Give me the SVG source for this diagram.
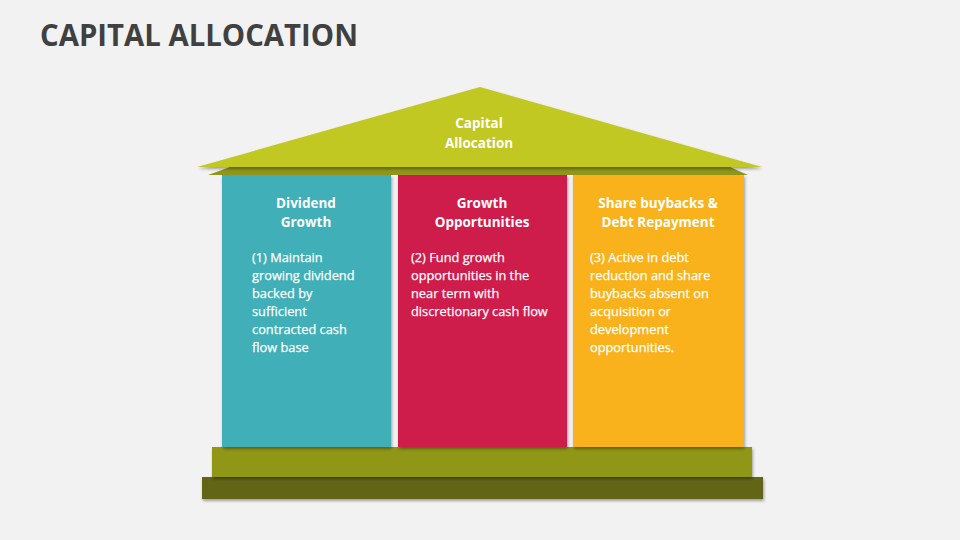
<svg xmlns="http://www.w3.org/2000/svg" width="960" height="540" viewBox="0 0 960 540">
<style>
.title{font-family:"Open Sans","Liberation Sans",sans-serif;font-weight:700;font-size:30px;fill:#404040}
.hd{font-family:"Open Sans","Liberation Sans",sans-serif;font-weight:700;font-size:13.5px;fill:#ffffff;text-anchor:middle}
.bd{font-family:"Open Sans","Liberation Sans",sans-serif;font-size:12.8px;fill:#ffffff;stroke:#ffffff;stroke-width:0.25}
</style>
<defs>
<filter id="sh" x="-10%" y="-10%" width="120%" height="130%">
<feDropShadow dx="1" dy="2" stdDeviation="1.5" flood-color="#000" flood-opacity="0.35"/>
</filter>
</defs>
<rect width="960" height="540" fill="#F2F2F2"/>
<text class="title" x="40" y="46" textLength="318" lengthAdjust="spacingAndGlyphs">CAPITAL ALLOCATION</text>

<g id="base">
<rect x="202" y="477" width="561" height="22" fill="#636515" filter="url(#sh)"/>
<rect x="212" y="447" width="540" height="30" fill="#909619" filter="url(#sh)"/>
</g>

<g id="pillar-dividend">
<rect x="222" y="175" width="169" height="272" fill="#41AFB8" filter="url(#sh)"/>
<text class="hd" x="306" y="208">Dividend</text>
<text class="hd" x="306" y="227">Growth</text>
<text class="bd" x="252" y="262">(1) Maintain</text>
<text class="bd" x="252" y="280">growing dividend</text>
<text class="bd" x="252" y="298">backed by</text>
<text class="bd" x="252" y="316">sufficient</text>
<text class="bd" x="252" y="334">contracted cash</text>
<text class="bd" x="252" y="352">flow base</text>
</g>

<g id="pillar-growth">
<rect x="398" y="175" width="169" height="272" fill="#CE1A4B" filter="url(#sh)"/>
<text class="hd" x="482" y="208">Growth</text>
<text class="hd" x="482" y="227">Opportunities</text>
<text class="bd" x="411" y="262">(2) Fund growth</text>
<text class="bd" x="411" y="280">opportunities in the</text>
<text class="bd" x="411" y="298">near term with</text>
<text class="bd" x="411" y="316">discretionary cash flow</text>
</g>

<g id="pillar-share">
<rect x="573" y="175" width="171" height="272" fill="#F9B21A" filter="url(#sh)"/>
<text class="hd" x="658" y="208">Share buybacks &amp;</text>
<text class="hd" x="658" y="227">Debt Repayment</text>
<text class="bd" x="590" y="262">(3) Active in debt</text>
<text class="bd" x="590" y="280">reduction and share</text>
<text class="bd" x="590" y="298">buybacks absent on</text>
<text class="bd" x="590" y="316">acquisition or</text>
<text class="bd" x="590" y="334">development</text>
<text class="bd" x="590" y="352">opportunities.</text>
</g>

<g id="roof">
<polygon points="230,167 730,167 748,175 208,175" fill="#909619"/>
<polygon points="480,87 762,167 197,167" fill="#C2C822" filter="url(#sh)"/>
<text class="hd" x="479" y="128">Capital</text>
<text class="hd" x="479" y="148">Allocation</text>
</g>
</svg>
